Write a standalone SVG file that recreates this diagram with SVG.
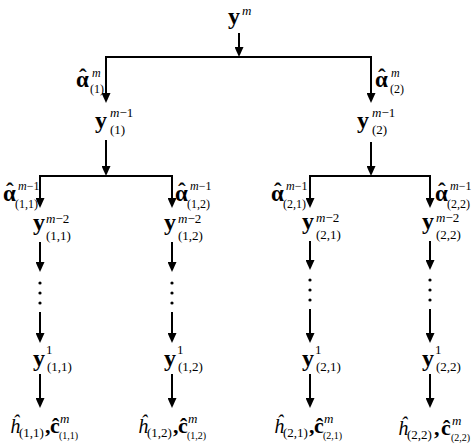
<svg xmlns="http://www.w3.org/2000/svg" width="474" height="446" viewBox="0 0 474 446">
<defs>
<style>
text{font-family:"Liberation Serif","Times New Roman",serif;fill:#000}
.y{font-size:24px;font-weight:bold}
.a{font-size:23px;font-weight:bold}
.s{font-size:13px;font-weight:normal;font-style:normal}
.sa{font-size:12px;font-weight:normal;font-style:normal}
.m{font-style:italic}
.h{font-size:20px;font-style:italic;font-weight:normal}
.c{font-size:22px;font-weight:bold;font-style:normal}
.cs{font-size:10px;font-weight:normal;font-style:normal}
.ln{stroke:#000;stroke-width:2;fill:none}
.dot{fill:#000}
</style>
<marker id="ar" viewBox="0 0 10 9" markerUnits="userSpaceOnUse" markerWidth="10" markerHeight="9" refX="4" refY="4.5" orient="auto-start-reverse">
<path d="M0,0 L10,4.5 L0,9 z" fill="#000"/>
</marker>
</defs>
<rect width="474" height="446" fill="#fff"/>

<g id="connectors">
<line class="ln" x1="239" y1="33" x2="239" y2="51" marker-end="url(#ar)"/>
<polyline class="ln" points="106,97 106,57 371,57 371,97" marker-start="url(#ar)" marker-end="url(#ar)"/>
<line class="ln" x1="106" y1="140" x2="106" y2="170" marker-end="url(#ar)"/>
<line class="ln" x1="371" y1="142" x2="371" y2="170" marker-end="url(#ar)"/>
<polyline class="ln" points="40,202 40,176 172,176 172,202" marker-start="url(#ar)" marker-end="url(#ar)"/>
<polyline class="ln" points="310,202 310,176 430,176 430,202" marker-start="url(#ar)" marker-end="url(#ar)"/>
<g id="col1">
<line class="ln" x1="40" y1="242" x2="40" y2="266" marker-end="url(#ar)"/>
<circle class="dot" cx="40" cy="283" r="1.6"/><circle class="dot" cx="40" cy="293" r="1.6"/><circle class="dot" cx="40" cy="303" r="1.6"/>
<line class="ln" x1="40" y1="312" x2="40" y2="337" marker-end="url(#ar)"/>
<line class="ln" x1="40" y1="374" x2="40" y2="402" marker-end="url(#ar)"/>
</g>
<g id="col2">
<line class="ln" x1="172" y1="242" x2="172" y2="266" marker-end="url(#ar)"/>
<circle class="dot" cx="172" cy="283" r="1.6"/><circle class="dot" cx="172" cy="293" r="1.6"/><circle class="dot" cx="172" cy="303" r="1.6"/>
<line class="ln" x1="172" y1="312" x2="172" y2="337" marker-end="url(#ar)"/>
<line class="ln" x1="172" y1="374" x2="172" y2="402" marker-end="url(#ar)"/>
</g>
<g id="col3">
<line class="ln" x1="310" y1="241" x2="310" y2="264" marker-end="url(#ar)"/>
<circle class="dot" cx="310" cy="280" r="1.6"/><circle class="dot" cx="310" cy="290" r="1.6"/><circle class="dot" cx="310" cy="300" r="1.6"/>
<line class="ln" x1="310" y1="309" x2="310" y2="337" marker-end="url(#ar)"/>
<line class="ln" x1="310" y1="374" x2="310" y2="402" marker-end="url(#ar)"/>
</g>
<g id="col4">
<line class="ln" x1="430" y1="241" x2="430" y2="264" marker-end="url(#ar)"/>
<circle class="dot" cx="430" cy="280" r="1.6"/><circle class="dot" cx="430" cy="290" r="1.6"/><circle class="dot" cx="430" cy="300" r="1.6"/>
<line class="ln" x1="430" y1="309" x2="430" y2="337" marker-end="url(#ar)"/>
<line class="ln" x1="430" y1="374" x2="430" y2="402" marker-end="url(#ar)"/>
</g>
</g>

<g id="n-ym"><text class="y" x="228" y="24">y<tspan class="s m" x="242" y="15">m</tspan></text></g>

<g id="e-a1"><text class="a" x="76 79" y="87 85">αˆ<tspan class="sa m" x="92" y="77">m</tspan><tspan class="sa" x="90" y="93">(1)</tspan></text></g>
<g id="e-a2"><text class="a" x="375 378" y="87 85">αˆ<tspan class="sa m" x="391" y="77">m</tspan><tspan class="sa" x="390" y="93">(2)</tspan></text></g>

<g id="n-y1"><text class="y" x="95" y="128">y<tspan class="s" x="110" y="117"><tspan class="m">m</tspan>−1</tspan><tspan class="s" x="110" y="134">(1)</tspan></text></g>
<g id="n-y2"><text class="y" x="357" y="128">y<tspan class="s" x="372" y="117"><tspan class="m">m</tspan>−1</tspan><tspan class="s" x="372" y="134">(2)</tspan></text></g>

<g id="e-a11"><text class="a" x="3 6" y="201 199">αˆ<tspan class="sa" x="18" y="190"><tspan class="m">m</tspan>−1</tspan><tspan class="sa" x="15" y="208">(1,1)</tspan></text></g>
<g id="e-a12"><text class="a" x="175 178" y="201 199">αˆ<tspan class="sa" x="190" y="190"><tspan class="m">m</tspan>−1</tspan><tspan class="sa" x="187" y="208">(1,2)</tspan></text></g>
<g id="e-a21"><text class="a" x="271 274" y="201 199">αˆ<tspan class="sa" x="286" y="190"><tspan class="m">m</tspan>−1</tspan><tspan class="sa" x="283" y="208">(2,1)</tspan></text></g>
<g id="e-a22"><text class="a" x="435 438" y="201 199">αˆ<tspan class="sa" x="450" y="190"><tspan class="m">m</tspan>−1</tspan><tspan class="sa" x="447" y="208">(2,2)</tspan></text></g>

<g id="n-y11"><text class="y" x="33" y="230">y<tspan class="s" x="46" y="223"><tspan class="m">m</tspan>−2</tspan><tspan class="s" x="46" y="240">(1,1)</tspan></text></g>
<g id="n-y12"><text class="y" x="164" y="230">y<tspan class="s" x="178" y="223"><tspan class="m">m</tspan>−2</tspan><tspan class="s" x="178" y="240">(1,2)</tspan></text></g>
<g id="n-y21"><text class="y" x="302" y="229">y<tspan class="s" x="316" y="222"><tspan class="m">m</tspan>−2</tspan><tspan class="s" x="316" y="239">(2,1)</tspan></text></g>
<g id="n-y22"><text class="y" x="422" y="229">y<tspan class="s" x="436" y="222"><tspan class="m">m</tspan>−2</tspan><tspan class="s" x="436" y="239">(2,2)</tspan></text></g>

<g id="n-y1-11"><text class="y" x="33" y="366">y<tspan class="s" x="46" y="354">1</tspan><tspan class="s" x="47" y="371">(1,1)</tspan></text></g>
<g id="n-y1-12"><text class="y" x="164" y="366">y<tspan class="s" x="177" y="354">1</tspan><tspan class="s" x="178" y="371">(1,2)</tspan></text></g>
<g id="n-y1-21"><text class="y" x="302" y="366">y<tspan class="s" x="315" y="354">1</tspan><tspan class="s" x="316" y="371">(2,1)</tspan></text></g>
<g id="n-y1-22"><text class="y" x="422" y="366">y<tspan class="s" x="435" y="354">1</tspan><tspan class="s" x="436" y="371">(2,2)</tspan></text></g>

<g id="n-out11"><text class="h" x="10" y="433">ĥ<tspan class="s" x="19" y="437">(1,1)</tspan><tspan class="c" x="45" y="433">,</tspan><tspan class="c" x="50" y="433">ĉ</tspan><tspan class="s m" x="60" y="423">m</tspan><tspan class="cs" x="59" y="439">(1,1)</tspan></text></g>
<g id="n-out12"><text class="h" x="138" y="433">ĥ<tspan class="s" x="147" y="437">(1,2)</tspan><tspan class="c" x="173" y="433">,</tspan><tspan class="c" x="178" y="433">ĉ</tspan><tspan class="s m" x="188" y="423">m</tspan><tspan class="cs" x="187" y="439">(1,2)</tspan></text></g>
<g id="n-out21"><text class="h" x="274" y="433">ĥ<tspan class="s" x="283" y="437">(2,1)</tspan><tspan class="c" x="309" y="433">,</tspan><tspan class="c" x="314" y="433">ĉ</tspan><tspan class="s m" x="324" y="423">m</tspan><tspan class="cs" x="323" y="439">(2,1)</tspan></text></g>
<g id="n-out22"><text class="h" x="398" y="435">ĥ<tspan class="s" x="407" y="439">(2,2)</tspan><tspan class="c" x="434" y="435">,</tspan><tspan class="c" x="441" y="435">ĉ</tspan><tspan class="s m" x="452" y="425">m</tspan><tspan class="cs" x="451" y="441">(2,2)</tspan></text></g>
</svg>
